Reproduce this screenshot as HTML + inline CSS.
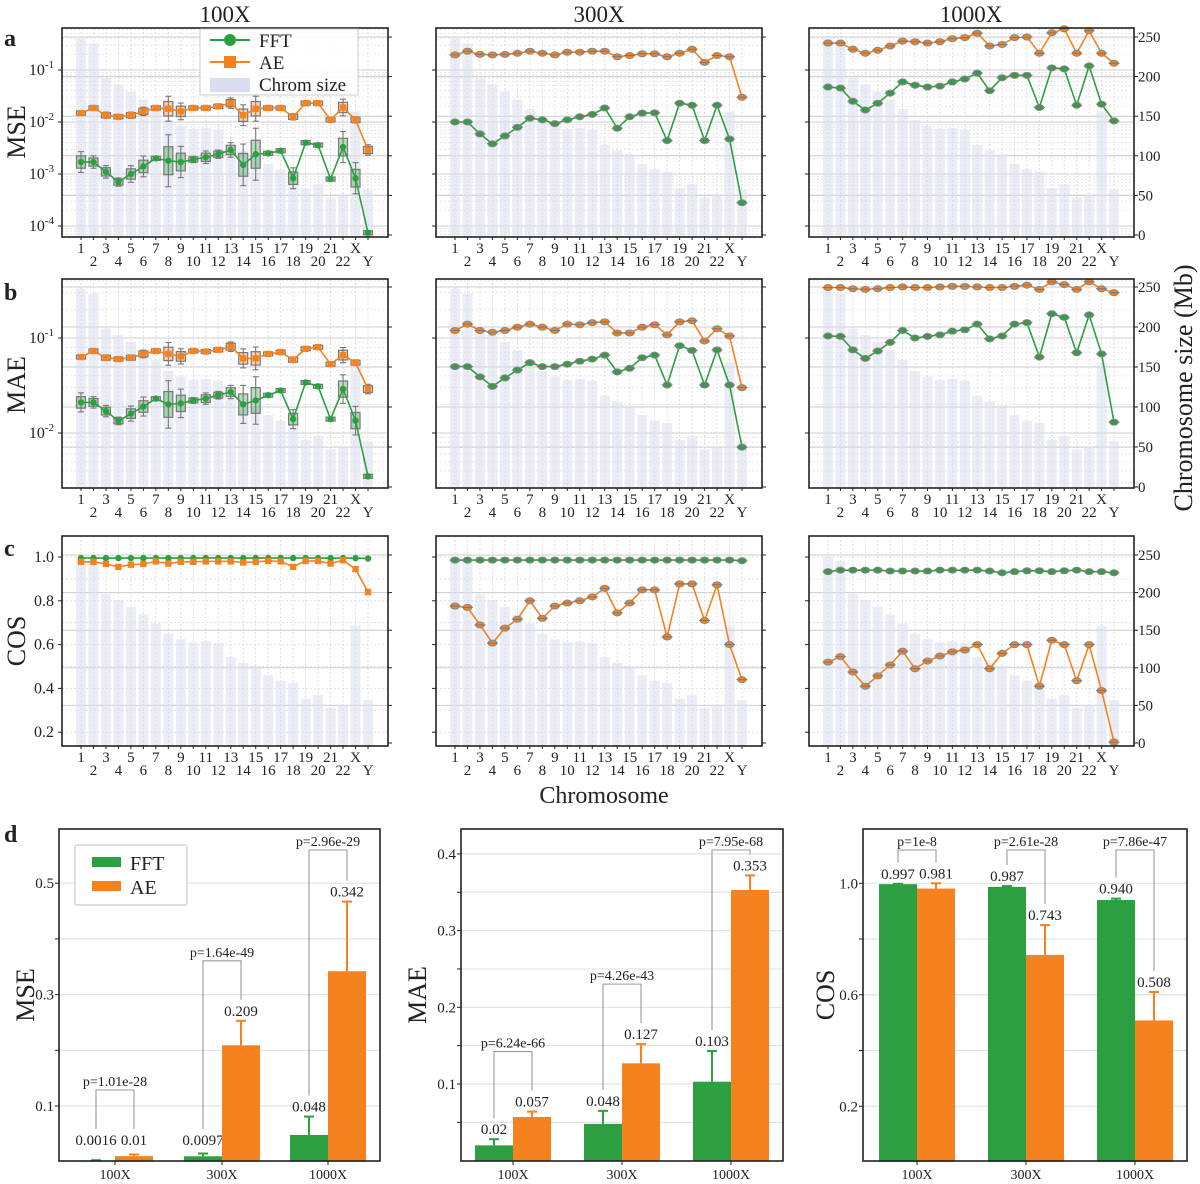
<!DOCTYPE html>
<html><head><meta charset="utf-8"><style>
html,body{margin:0;padding:0;background:#fff}
svg{display:block;font-family:"Liberation Serif",serif}
</style></head><body>
<svg id="fig" xmlns="http://www.w3.org/2000/svg" width="1200" height="1184" viewBox="0 0 1200 1184">
<g id="static" fill="#222">
<text x="225" y="22" font-size="23" text-anchor="middle">100X</text>
<text x="599" y="22" font-size="23" text-anchor="middle">300X</text>
<text x="971" y="22" font-size="23" text-anchor="middle">1000X</text>
<text x="4" y="46" font-size="24" font-weight="bold">a</text>
<text x="4" y="300" font-size="24" font-weight="bold">b</text>
<text x="4" y="556" font-size="24" font-weight="bold">c</text>
<text x="4" y="842" font-size="24" font-weight="bold">d</text>
<text transform="translate(25,132) rotate(-90)" font-size="26" text-anchor="middle">MSE</text>
<text transform="translate(25,385) rotate(-90)" font-size="26" text-anchor="middle">MAE</text>
<text transform="translate(25,641) rotate(-90)" font-size="26" text-anchor="middle">COS</text>
<text x="604" y="803" font-size="24" text-anchor="middle">Chromosome</text>
<text transform="translate(1192,388) rotate(-90)" font-size="26" text-anchor="middle">Chromosome size (Mb)</text>
<text transform="translate(34,995) rotate(-90)" font-size="26" text-anchor="middle">MSE</text>
<text transform="translate(426,995) rotate(-90)" font-size="26" text-anchor="middle">MAE</text>
<text transform="translate(834,995) rotate(-90)" font-size="26" text-anchor="middle">COS</text>
</g>
</svg>
<script>
const chroms=['1','2','3','4','5','6','7','8','9','10','11','12','13','14','15','16','17','18','19','20','21','22','X','Y'];
const chromSize=[248,242,198,190,181,171,159,145,138,134,135,133,114,107,102,90,83,80,59,64,47,51,156,57];

const mse100FFT=[0.0017,0.0017,0.0011,0.0007,0.001,0.0014,0.002,0.0018,0.0017,0.0019,0.0021,0.0024,0.0029,0.0015,0.0024,0.0025,0.0028,0.00083,0.004,0.0036,0.0008,0.0033,0.00083,0.000074];
const mse100AE=[0.0148,0.0186,0.0135,0.0126,0.0135,0.016,0.0186,0.018,0.016,0.0186,0.0186,0.02,0.023,0.0135,0.018,0.0186,0.0186,0.0126,0.023,0.023,0.011,0.019,0.011,0.0029];
const mse300FFT=[0.01,0.01,0.0059,0.0038,0.0054,0.0079,0.0118,0.011,0.0093,0.011,0.0126,0.014,0.0186,0.0076,0.0126,0.0148,0.015,0.0044,0.023,0.021,0.0044,0.021,0.0047,0.00028];
const mse300AE=[0.195,0.23,0.2,0.195,0.2,0.21,0.23,0.21,0.195,0.22,0.22,0.23,0.23,0.18,0.19,0.205,0.205,0.18,0.21,0.25,0.14,0.19,0.18,0.03];
const mse1000FFT=[0.047,0.045,0.025,0.017,0.023,0.036,0.059,0.051,0.047,0.049,0.059,0.067,0.087,0.04,0.071,0.079,0.079,0.019,0.11,0.105,0.021,0.12,0.022,0.0105];
const mse1000AE=[0.33,0.33,0.25,0.21,0.24,0.29,0.36,0.35,0.33,0.35,0.4,0.42,0.51,0.29,0.31,0.42,0.43,0.21,0.52,0.62,0.21,0.57,0.21,0.135];

const mae100FFT=[0.021,0.021,0.017,0.0134,0.016,0.019,0.023,0.02,0.0205,0.022,0.023,0.025,0.027,0.02,0.022,0.025,0.028,0.014,0.034,0.031,0.014,0.029,0.0135,0.0035];
const mae100AE=[0.063,0.073,0.062,0.06,0.062,0.068,0.073,0.068,0.064,0.073,0.072,0.075,0.081,0.061,0.061,0.068,0.071,0.059,0.077,0.08,0.053,0.066,0.055,0.029];
const mae300FFT=[0.05,0.05,0.039,0.031,0.038,0.046,0.055,0.05,0.05,0.053,0.057,0.06,0.066,0.044,0.048,0.062,0.066,0.032,0.083,0.074,0.032,0.075,0.032,0.0071];
const mae300AE=[0.12,0.14,0.12,0.115,0.12,0.13,0.14,0.13,0.12,0.14,0.138,0.145,0.148,0.113,0.113,0.13,0.138,0.108,0.148,0.152,0.093,0.125,0.105,0.03];
const mae1000FFT=[0.105,0.104,0.075,0.061,0.073,0.09,0.12,0.1,0.104,0.108,0.118,0.122,0.14,0.098,0.105,0.14,0.145,0.063,0.18,0.165,0.07,0.175,0.068,0.013];
const mae1000AE=[0.34,0.34,0.33,0.325,0.33,0.34,0.345,0.34,0.34,0.345,0.35,0.35,0.345,0.34,0.34,0.35,0.36,0.325,0.39,0.365,0.325,0.39,0.33,0.3];

const cos100FFT=[0.995,0.995,0.995,0.995,0.995,0.995,0.995,0.995,0.995,0.995,0.995,0.995,0.995,0.995,0.995,0.995,0.995,0.995,0.995,0.995,0.995,0.995,0.995,0.993];
const cos100AE=[0.978,0.978,0.968,0.955,0.965,0.968,0.98,0.97,0.978,0.978,0.98,0.98,0.98,0.975,0.978,0.982,0.98,0.955,0.982,0.982,0.97,0.985,0.945,0.84];
const cos300FFT=[0.986,0.986,0.986,0.986,0.986,0.986,0.986,0.986,0.986,0.986,0.986,0.986,0.986,0.986,0.986,0.986,0.986,0.986,0.986,0.986,0.986,0.986,0.986,0.983];
const cos300AE=[0.776,0.77,0.69,0.607,0.675,0.716,0.8,0.72,0.776,0.79,0.8,0.818,0.857,0.745,0.79,0.85,0.85,0.635,0.877,0.877,0.71,0.873,0.6,0.44];
const cos1000FFT=[0.933,0.94,0.94,0.94,0.94,0.936,0.936,0.936,0.936,0.94,0.94,0.94,0.94,0.936,0.928,0.933,0.937,0.937,0.933,0.937,0.94,0.933,0.933,0.928];
const cos1000AE=[0.52,0.545,0.475,0.41,0.457,0.507,0.57,0.49,0.525,0.548,0.567,0.575,0.6,0.49,0.56,0.6,0.6,0.41,0.62,0.6,0.435,0.6,0.39,0.155];

const spreadFFT100=[0.1,0.06,0.06,0.04,0.08,0.1,0.02,0.25,0.15,0.03,0.06,0.04,0.07,0.2,0.25,0.02,0.02,0.1,0.02,0.02,0.02,0.15,0.15,0.02];
const spreadAE100=[0.02,0.02,0.03,0.02,0.03,0.04,0.02,0.12,0.08,0.02,0.02,0.02,0.05,0.1,0.12,0.02,0.02,0.03,0.02,0.02,0.02,0.08,0.03,0.05];

const groups=['100X','300X','1000X'];
const dMseFFT=[0.0016,0.0097,0.048], dMseFFTerr=[0.001,0.005,0.033];
const dMseAE=[0.01,0.209,0.342], dMseAEerr=[0.003,0.044,0.125];
const dMseFFTlab=['0.0016','0.0097','0.048'], dMseAElab=['0.01','0.209','0.342'];
const dMseP=['p=1.01e-28','p=1.64e-49','p=2.96e-29'];
const dMaeFFT=[0.02,0.048,0.103], dMaeFFTerr=[0.008,0.017,0.04];
const dMaeAE=[0.057,0.127,0.353], dMaeAEerr=[0.007,0.025,0.019];
const dMaeFFTlab=['0.02','0.048','0.103'], dMaeAElab=['0.057','0.127','0.353'];
const dMaeP=['p=6.24e-66','p=4.26e-43','p=7.95e-68'];
const dCosFFT=[0.997,0.987,0.940], dCosFFTerr=[0.001,0.003,0.005];
const dCosAE=[0.981,0.743,0.508], dCosAEerr=[0.019,0.107,0.102];
const dCosFFTlab=['0.997','0.987','0.940'], dCosAElab=['0.981','0.743','0.508'];
const dCosP=['p=1e-8','p=2.61e-28','p=7.86e-47'];

const NS='http://www.w3.org/2000/svg';
const svg=document.getElementById('fig');
const GREEN='#2ca040', ORANGE='#f5821f';
function mk(tag,attrs,parent){const e=document.createElementNS(NS,tag);for(const k in attrs)e.setAttribute(k,attrs[k]);(parent||svg).appendChild(e);return e;}

const cols=[{l:62,r:388},{l:436,r:762},{l:809,r:1134}];
const rows=[
 {t:28,b:237,type:'log',ref:70,dec:52,s0:235,s250:37,labels:[[-1,'-1'],[-2,'-2'],[-3,'-3'],[-4,'-4']]},
 {t:279,b:488,type:'log',ref:338,dec:95,s0:487,s250:287,labels:[[-1,'-1'],[-2,'-2']]},
 {t:536,b:746,type:'lin',ref:557,k:219,s0:743,s250:555,labels:[0.2,0.4,0.6,0.8,1.0]}
];
const lineData=[
 [[mse100FFT,mse100AE],[mse300FFT,mse300AE],[mse1000FFT,mse1000AE]],
 [[mae100FFT,mae100AE],[mae300FFT,mae300AE],[mae1000FFT,mae1000AE]],
 [[cos100FFT,cos100AE],[cos300FFT,cos300AE],[cos1000FFT,cos1000AE]]
];

function drawPanel(ri,ci){
 const R=rows[ri],C=cols[ci];
 const g=mk('g',{});
 
 
 const yv = R.type==='log' ? (v=>R.ref+(-1-Math.log10(v))*R.dec) : (v=>R.ref+(1-v)*R.k);
 const xc = i=>C.l+19+i*(C.r-C.l-39)/23;
 const ys = s=>R.s0+(R.s250-R.s0)*s/250;
 mk('rect',{x:C.l,y:R.t,width:C.r-C.l,height:R.b-R.t,fill:'#fff'},g);
 if(R.type==='log'){
  for(let d=-5;d<=0;d++)for(let m=1;m<10;m++){const y=yv(m*Math.pow(10,d));if(y>R.t&&y<R.b)mk('line',{x1:C.l,x2:C.r,y1:y,y2:y,stroke:m===1?'#cfcfcf':'#e2e2e2','stroke-width':m===1?1:0.8,'stroke-dasharray':m===1?'':'2,2'},g);}
 } else {
  for(let v=0.2;v<=1.01;v+=0.1){const y=yv(v);mk('line',{x1:C.l,x2:C.r,y1:y,y2:y,stroke:'#dcdcdc','stroke-width':0.8,'stroke-dasharray':'2,2'},g);}
 }
 for(let s=50;s<=250;s+=50){const y=ys(s);mk('line',{x1:C.l,x2:C.r,y1:y,y2:y,stroke:'#cccccc','stroke-width':1},g);}
 chroms.forEach((c,i)=>mk('line',{x1:xc(i),x2:xc(i),y1:R.t,y2:R.b,stroke:'#d8d8d8','stroke-width':0.8,'stroke-dasharray':'2,2'},g));
 chromSize.forEach((s,i)=>{
  const b=mk('rect',{x:xc(i)-5,y:ys(s),width:10,height:R.b-ys(s),fill:'#d9ddef','fill-opacity':0.55},g);
  
  
 });
 const [fft,ae]=lineData[ri][ci];
 [[fft,GREEN,spreadFFT100],[ae,ORANGE,spreadAE100]].forEach(([arr,col,spr],si)=>{
  const name=(si===0?'fft':'ae');
  if(ci===0&&ri<2){
   const f=ri===0?1:0.5;
   arr.forEach((v,i)=>{
    const s=spr[i]*f, x=xc(i);
    const yTop=yv(v*Math.pow(10,s)), yBot=yv(v/Math.pow(10,s));
    const wt=yv(v*Math.pow(10,s*2)), wb=yv(v/Math.pow(10,s*2));
    mk('line',{x1:x,x2:x,y1:wt,y2:wb,stroke:'#777','stroke-width':1.1},g);
    mk('line',{x1:x-3,x2:x+3,y1:wt,y2:wt,stroke:'#777','stroke-width':1.1},g);
    mk('line',{x1:x-3,x2:x+3,y1:wb,y2:wb,stroke:'#777','stroke-width':1.1},g);
    const bx=mk('rect',{x:x-4.5,y:yTop-1,width:9,height:Math.max(2,yBot-yTop+2),fill:col,'fill-opacity':0.35,stroke:'#777','stroke-width':1.2},g);
    
    
   });
  }
  const pts=arr.map((v,i)=>xc(i)+','+yv(v)).join(' ');
  const pl=mk('polyline',{points:pts,fill:'none',stroke:col,'stroke-width':1.6},g);
  
  
  arr.forEach((v,i)=>{
   const x=xc(i),y=yv(v);
   let m;
   if(ci===0){
    if(si===0) m=mk('circle',{cx:x,cy:y,r:3.2,fill:col},g);
    else m=mk('rect',{x:x-3.2,y:y-3.2,width:6.4,height:6.4,fill:col},g);
   } else {
    m=mk('ellipse',{cx:x,cy:y,rx:4.3,ry:3,fill:col,stroke:'#888','stroke-width':1},g);
    mk('line',{x1:x-5.5,x2:x+5.5,y1:y,y2:y,stroke:'#777','stroke-width':1},g);
   }
   
   
  });
 });
 mk('rect',{x:C.l,y:R.t,width:C.r-C.l,height:R.b-R.t,fill:'none',stroke:'#222','stroke-width':1.6},g);
 for(let s=0;s<=250;s+=50){const y=ys(s);mk('line',{x1:C.r,x2:C.r+4,y1:y,y2:y,stroke:'#222'},g);
  if(ci===2){const t=mk('text',{x:C.r+4,y:y+5,'font-size':15,fill:'#222'},g);t.textContent=s;}}
 R.labels.forEach(L=>{
  const y = R.type==='log'? R.ref+(-1-L[0])*R.dec : yv(L);
  mk('line',{x1:C.l-4,x2:C.l,y1:y,y2:y,stroke:'#222'},g);
  if(ci===0){
   const t=mk('text',{x:C.l-8,y:y+5,'font-size':16,'text-anchor':'end',fill:'#222'},g);
   if(R.type==='log'){t.appendChild(document.createTextNode('10'));const ts=mk('tspan',{dy:-7,'font-size':11},t);ts.textContent=L[1];}
   else t.textContent=L.toFixed(1);
  }
 });
 chroms.forEach((c,i)=>{
  const x=xc(i);
  mk('line',{x1:x,x2:x,y1:R.b,y2:R.b+3,stroke:'#222'},g);
  const t=mk('text',{x:x,y:R.b+(i%2===0?16:29),'font-size':15,'text-anchor':'middle',fill:'#222'},g);
  t.textContent=c;
  
  
 });
}
for(let r=0;r<3;r++)for(let c=0;c<3;c++)drawPanel(r,c);

(function(){
 const g=mk('g',{});
 
 
 mk('rect',{x:200,y:29,width:158,height:66,fill:'#fff','fill-opacity':0.9,stroke:'#ccc'},g);
 mk('line',{x1:210,x2:250,y1:40,y2:40,stroke:GREEN,'stroke-width':2},g);
 mk('circle',{cx:230,cy:40,r:6,fill:GREEN},g);
 mk('line',{x1:210,x2:250,y1:62,y2:62,stroke:ORANGE,'stroke-width':2},g);
 mk('rect',{x:224,y:56,width:12,height:12,fill:ORANGE},g);
 mk('rect',{x:210,y:78,width:40,height:14,fill:'#d9ddef'},g);
 [['FFT',47],['AE',69],['Chrom size',91]].forEach(([s,y])=>{
  const t=mk('text',{x:259,y:y,'font-size':19,fill:'#222'},g);t.textContent=s;
  
  
 });
})();

function barChart(o){
 const g=mk('g',{});
 
 
 const y=v=>o.y0-v*o.k;
 mk('rect',{x:o.l,y:o.t,width:o.r-o.l,height:o.b-o.t,fill:'#fff'},g);
 o.grid.forEach(v=>mk('line',{x1:o.l,x2:o.r,y1:y(v),y2:y(v),stroke:'#e3e3e3','stroke-width':1.2},g));
 o.grid.forEach(v=>mk('line',{x1:o.l-4,x2:o.l,y1:y(v),y2:y(v),stroke:'#222'},g));
 o.ticks.forEach(v=>{const t=mk('text',{x:o.l-5,y:y(v)+5,'font-size':15,'text-anchor':'end',fill:'#222'},g);t.textContent=v.toFixed(1);});
 const bw=38;
 groups.forEach((gn,i)=>{
  const cx=o.centers[i];
  const xs=[cx-bw/2,cx+bw/2];
  const vals=[o.fft[i],o.ae[i]], errs=[o.fftErr[i],o.aeErr[i]], labs=[o.fftLab[i],o.aeLab[i]];
  const labY=[];
  [GREEN,ORANGE].forEach((col,j)=>{
   const b=mk('rect',{x:xs[j]-bw/2,y:y(vals[j]),width:bw,height:o.y0-y(vals[j]),fill:col},g);
   
   
   const et=y(vals[j]+errs[j]);
   mk('line',{x1:xs[j],x2:xs[j],y1:y(vals[j]),y2:et,stroke:col,'stroke-width':2},g);
   mk('line',{x1:xs[j]-5,x2:xs[j]+5,y1:et,y2:et,stroke:col,'stroke-width':2},g);
   const ly=Math.min(et-5,o.b-16);
   labY.push(ly);
   const t=mk('text',{x:xs[j],y:ly,'font-size':15,'text-anchor':'middle',fill:'#222'},g);t.textContent=labs[j];
  });
  const by=Math.max(Math.min(labY[0],labY[1])-55,o.t+21);
  mk('polyline',{points:`${xs[0]},${labY[0]-16} ${xs[0]},${by} ${xs[1]},${by} ${xs[1]},${labY[1]-16}`,fill:'none',stroke:'#999','stroke-width':1.1},g);
  const p=mk('text',{x:cx,y:by-4,'font-size':14,'text-anchor':'middle',fill:'#222'},g);p.textContent=o.p[i];
  mk('line',{x1:cx,x2:cx,y1:o.b,y2:o.b+4,stroke:'#222'},g);
  const xt=mk('text',{x:cx,y:o.b+18,'font-size':14,'text-anchor':'middle',fill:'#222'},g);xt.textContent=gn;
 });
 mk('rect',{x:o.l,y:o.t,width:o.r-o.l,height:o.b-o.t,fill:'none',stroke:'#222','stroke-width':1.6},g);
}
barChart({name:'bar-chart-mse',l:59,r:380,t:829,b:1161,y0:1161.7,k:557,grid:[0.1,0.2,0.3,0.4,0.5],ticks:[0.1,0.3,0.5],centers:[115,222,328],
 fft:dMseFFT,ae:dMseAE,fftErr:dMseFFTerr,aeErr:dMseAEerr,fftLab:dMseFFTlab,aeLab:dMseAElab,p:dMseP});
barChart({name:'bar-chart-mae',l:461,r:783,t:829,b:1161,y0:1160.7,k:767,grid:[0.05,0.1,0.15,0.2,0.25,0.3,0.35,0.4],ticks:[0.1,0.2,0.3,0.4],centers:[513,622,731],
 fft:dMaeFFT,ae:dMaeAE,fftErr:dMaeFFTerr,aeErr:dMaeAEerr,fftLab:dMaeFFTlab,aeLab:dMaeAElab,p:dMaeP});
barChart({name:'bar-chart-cos',l:863,r:1187,t:829,b:1161,y0:1162,k:278.7,grid:[0.2,0.4,0.6,0.8,1.0],ticks:[0.2,0.6,1.0],centers:[917,1026,1135],
 fft:dCosFFT,ae:dCosAE,fftErr:dCosFFTerr,aeErr:dCosAEerr,fftLab:dCosFFTlab,aeLab:dCosAElab,p:dCosP});

(function(){
 const g=mk('g',{});
 
 
 mk('rect',{x:75,y:845,width:112,height:60,fill:'#fff',stroke:'#ccc','stroke-width':1.2,rx:2},g);
 mk('rect',{x:92,y:857,width:29,height:10,fill:GREEN},g);
 mk('rect',{x:92,y:881,width:29,height:10,fill:ORANGE},g);
 const a=mk('text',{x:130,y:870,'font-size':20,fill:'#222'},g);a.textContent='FFT';
 const b=mk('text',{x:130,y:894,'font-size':20,fill:'#222'},g);b.textContent='AE';
})();
svg.appendChild(document.getElementById('static'));
</script>
</body></html>
